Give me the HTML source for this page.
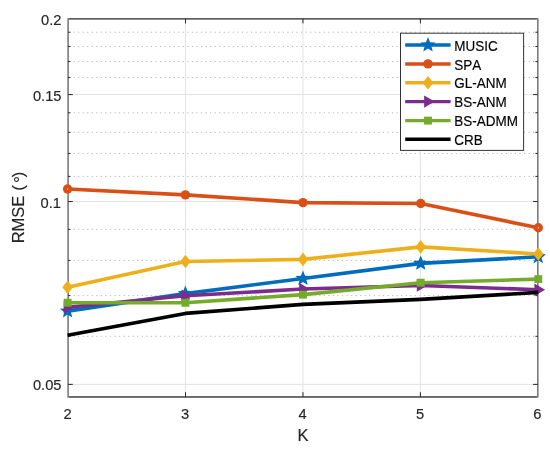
<!DOCTYPE html>
<html><head><meta charset="utf-8"><title>RMSE vs K</title>
<style>html,body{margin:0;padding:0;background:#fff;}body{width:550px;height:450px;overflow:hidden;}svg{display:block;}text{stroke:#262626;stroke-width:.16px;}text.lg{stroke:#000;}</style>
</head><body>
<svg width="550" height="450" viewBox="0 0 550 450" font-family="&quot;Liberation Sans&quot;, sans-serif" fill="#262626">
<rect width="550" height="450" fill="#fff"/>
<line x1="73.5" y1="32.23" x2="534.8" y2="32.23" stroke="#b8b8b8" stroke-width="1" stroke-dasharray="1.2 3.35"/>
<line x1="73.5" y1="46.49" x2="534.8" y2="46.49" stroke="#b8b8b8" stroke-width="1" stroke-dasharray="1.2 3.35"/>
<line x1="73.5" y1="61.57" x2="534.8" y2="61.57" stroke="#b8b8b8" stroke-width="1" stroke-dasharray="1.2 3.35"/>
<line x1="73.5" y1="77.56" x2="534.8" y2="77.56" stroke="#b8b8b8" stroke-width="1" stroke-dasharray="1.2 3.35"/>
<line x1="73.5" y1="112.79" x2="534.8" y2="112.79" stroke="#b8b8b8" stroke-width="1" stroke-dasharray="1.2 3.35"/>
<line x1="73.5" y1="132.34" x2="534.8" y2="132.34" stroke="#b8b8b8" stroke-width="1" stroke-dasharray="1.2 3.35"/>
<line x1="73.5" y1="153.45" x2="534.8" y2="153.45" stroke="#b8b8b8" stroke-width="1" stroke-dasharray="1.2 3.35"/>
<line x1="73.5" y1="176.40" x2="534.8" y2="176.40" stroke="#b8b8b8" stroke-width="1" stroke-dasharray="1.2 3.35"/>
<line x1="73.5" y1="229.34" x2="534.8" y2="229.34" stroke="#b8b8b8" stroke-width="1" stroke-dasharray="1.2 3.35"/>
<line x1="73.5" y1="260.41" x2="534.8" y2="260.41" stroke="#b8b8b8" stroke-width="1" stroke-dasharray="1.2 3.35"/>
<line x1="73.5" y1="295.63" x2="534.8" y2="295.63" stroke="#b8b8b8" stroke-width="1" stroke-dasharray="1.2 3.35"/>
<line x1="73.5" y1="336.30" x2="534.8" y2="336.30" stroke="#b8b8b8" stroke-width="1" stroke-dasharray="1.2 3.35"/>
<line x1="185.52499999999998" y1="18.7" x2="185.52499999999998" y2="396.9" stroke="#e2e2e2" stroke-width="1"/>
<line x1="302.94999999999993" y1="18.7" x2="302.94999999999993" y2="396.9" stroke="#e2e2e2" stroke-width="1"/>
<line x1="420.375" y1="18.7" x2="420.375" y2="396.9" stroke="#e2e2e2" stroke-width="1"/>
<line x1="68.1" y1="94.59" x2="537.8" y2="94.59" stroke="#e2e2e2" stroke-width="1"/>
<line x1="68.1" y1="201.55" x2="537.8" y2="201.55" stroke="#e2e2e2" stroke-width="1"/>
<line x1="68.1" y1="384.39" x2="537.8" y2="384.39" stroke="#e2e2e2" stroke-width="1"/>
<rect x="68.1" y="18.7" width="469.69999999999993" height="378.2" fill="none" stroke="#7c7c7c" stroke-width="1.6" stroke-linejoin="round"/>
<line x1="69.1" y1="18.7" x2="536.8" y2="18.7" stroke="#5e5e5e" stroke-width="1.5"/>
<line x1="69.1" y1="396.9" x2="536.8" y2="396.9" stroke="#666" stroke-width="1.5"/>
<line x1="185.52499999999998" y1="396.9" x2="185.52499999999998" y2="392.2" stroke="#262626" stroke-width="1"/>
<line x1="185.52499999999998" y1="18.7" x2="185.52499999999998" y2="23.4" stroke="#262626" stroke-width="1"/>
<line x1="302.94999999999993" y1="396.9" x2="302.94999999999993" y2="392.2" stroke="#262626" stroke-width="1"/>
<line x1="302.94999999999993" y1="18.7" x2="302.94999999999993" y2="23.4" stroke="#262626" stroke-width="1"/>
<line x1="420.375" y1="396.9" x2="420.375" y2="392.2" stroke="#262626" stroke-width="1"/>
<line x1="420.375" y1="18.7" x2="420.375" y2="23.4" stroke="#262626" stroke-width="1"/>
<line x1="68.1" y1="94.59" x2="72.8" y2="94.59" stroke="#262626" stroke-width="1"/>
<line x1="537.8" y1="94.59" x2="533.0999999999999" y2="94.59" stroke="#262626" stroke-width="1"/>
<line x1="68.1" y1="201.55" x2="72.8" y2="201.55" stroke="#262626" stroke-width="1"/>
<line x1="537.8" y1="201.55" x2="533.0999999999999" y2="201.55" stroke="#262626" stroke-width="1"/>
<line x1="68.1" y1="384.39" x2="72.8" y2="384.39" stroke="#262626" stroke-width="1"/>
<line x1="537.8" y1="384.39" x2="533.0999999999999" y2="384.39" stroke="#262626" stroke-width="1"/>
<line x1="68.1" y1="32.23" x2="70.5" y2="32.23" stroke="#262626" stroke-width="1"/>
<line x1="537.8" y1="32.23" x2="535.4" y2="32.23" stroke="#262626" stroke-width="1"/>
<line x1="68.1" y1="46.49" x2="70.5" y2="46.49" stroke="#262626" stroke-width="1"/>
<line x1="537.8" y1="46.49" x2="535.4" y2="46.49" stroke="#262626" stroke-width="1"/>
<line x1="68.1" y1="61.57" x2="70.5" y2="61.57" stroke="#262626" stroke-width="1"/>
<line x1="537.8" y1="61.57" x2="535.4" y2="61.57" stroke="#262626" stroke-width="1"/>
<line x1="68.1" y1="77.56" x2="70.5" y2="77.56" stroke="#262626" stroke-width="1"/>
<line x1="537.8" y1="77.56" x2="535.4" y2="77.56" stroke="#262626" stroke-width="1"/>
<line x1="68.1" y1="112.79" x2="70.5" y2="112.79" stroke="#262626" stroke-width="1"/>
<line x1="537.8" y1="112.79" x2="535.4" y2="112.79" stroke="#262626" stroke-width="1"/>
<line x1="68.1" y1="132.34" x2="70.5" y2="132.34" stroke="#262626" stroke-width="1"/>
<line x1="537.8" y1="132.34" x2="535.4" y2="132.34" stroke="#262626" stroke-width="1"/>
<line x1="68.1" y1="153.45" x2="70.5" y2="153.45" stroke="#262626" stroke-width="1"/>
<line x1="537.8" y1="153.45" x2="535.4" y2="153.45" stroke="#262626" stroke-width="1"/>
<line x1="68.1" y1="176.40" x2="70.5" y2="176.40" stroke="#262626" stroke-width="1"/>
<line x1="537.8" y1="176.40" x2="535.4" y2="176.40" stroke="#262626" stroke-width="1"/>
<line x1="68.1" y1="229.34" x2="70.5" y2="229.34" stroke="#262626" stroke-width="1"/>
<line x1="537.8" y1="229.34" x2="535.4" y2="229.34" stroke="#262626" stroke-width="1"/>
<line x1="68.1" y1="260.41" x2="70.5" y2="260.41" stroke="#262626" stroke-width="1"/>
<line x1="537.8" y1="260.41" x2="535.4" y2="260.41" stroke="#262626" stroke-width="1"/>
<line x1="68.1" y1="295.63" x2="70.5" y2="295.63" stroke="#262626" stroke-width="1"/>
<line x1="537.8" y1="295.63" x2="535.4" y2="295.63" stroke="#262626" stroke-width="1"/>
<line x1="68.1" y1="336.30" x2="70.5" y2="336.30" stroke="#262626" stroke-width="1"/>
<line x1="537.8" y1="336.30" x2="535.4" y2="336.30" stroke="#262626" stroke-width="1"/>
<polyline points="67.6,311.1 185.4,293.6 303.0,278.5 420.7,263.4 538.3,256.8" fill="none" stroke="#006CBC" stroke-width="3.6" stroke-linejoin="round"/>
<polygon points="67.60,303.10 69.66,308.27 75.21,308.63 70.93,312.18 72.30,317.57 67.60,314.60 62.90,317.57 64.27,312.18 59.99,308.63 65.54,308.27" fill="#006CBC"/>
<polygon points="185.40,285.60 187.46,290.77 193.01,291.13 188.73,294.68 190.10,300.07 185.40,297.10 180.70,300.07 182.07,294.68 177.79,291.13 183.34,290.77" fill="#006CBC"/>
<polygon points="303.00,270.50 305.06,275.67 310.61,276.03 306.33,279.58 307.70,284.97 303.00,282.00 298.30,284.97 299.67,279.58 295.39,276.03 300.94,275.67" fill="#006CBC"/>
<polygon points="420.70,255.40 422.76,260.57 428.31,260.93 424.03,264.48 425.40,269.87 420.70,266.90 416.00,269.87 417.37,264.48 413.09,260.93 418.64,260.57" fill="#006CBC"/>
<polygon points="538.30,248.80 540.36,253.97 545.91,254.33 541.63,257.88 543.00,263.27 538.30,260.30 533.60,263.27 534.97,257.88 530.69,254.33 536.24,253.97" fill="#006CBC"/>
<polyline points="67.6,189.0 185.4,194.9 303.0,202.6 420.7,203.5 538.3,227.8" fill="none" stroke="#D94F15" stroke-width="3.6" stroke-linejoin="round"/>
<circle cx="67.6" cy="189.0" r="4.7" fill="#D94F15"/>
<circle cx="185.4" cy="194.9" r="4.7" fill="#D94F15"/>
<circle cx="303.0" cy="202.6" r="4.7" fill="#D94F15"/>
<circle cx="420.7" cy="203.5" r="4.7" fill="#D94F15"/>
<circle cx="538.3" cy="227.8" r="4.7" fill="#D94F15"/>
<polyline points="67.6,287.25 185.4,261.45 303.0,259.4 420.7,246.85 538.3,254.0" fill="none" stroke="#EDB01C" stroke-width="3.6" stroke-linejoin="round"/>
<polygon points="67.6,280.45 72.89999999999999,287.25 67.6,294.05 62.3,287.25" fill="#EDB01C"/>
<polygon points="185.4,254.64999999999998 190.70000000000002,261.45 185.4,268.25 180.1,261.45" fill="#EDB01C"/>
<polygon points="303.0,252.59999999999997 308.3,259.4 303.0,266.2 297.7,259.4" fill="#EDB01C"/>
<polygon points="420.7,240.04999999999998 426.0,246.85 420.7,253.65 415.4,246.85" fill="#EDB01C"/>
<polygon points="538.3,247.2 543.5999999999999,254.0 538.3,260.8 533.0,254.0" fill="#EDB01C"/>
<polyline points="67.6,307.2 185.4,295.8 303.0,289.0 420.7,285.5 538.3,289.7" fill="none" stroke="#7C2C8D" stroke-width="3.6" stroke-linejoin="round"/>
<polygon points="63.699999999999996,301.0 74.39999999999999,307.2 63.699999999999996,313.4" fill="#7C2C8D"/>
<polygon points="181.5,289.6 192.20000000000002,295.8 181.5,302.0" fill="#7C2C8D"/>
<polygon points="299.1,282.8 309.8,289.0 299.1,295.2" fill="#7C2C8D"/>
<polygon points="416.8,279.3 427.5,285.5 416.8,291.7" fill="#7C2C8D"/>
<polygon points="534.4,283.5 545.0999999999999,289.7 534.4,295.9" fill="#7C2C8D"/>
<polyline points="67.6,302.7 185.4,302.8 303.0,294.65 420.7,282.7 538.3,279.1" fill="none" stroke="#74AB2B" stroke-width="3.6" stroke-linejoin="round"/>
<rect x="63.64999999999999" y="298.75" width="7.9" height="7.9" fill="#74AB2B"/>
<rect x="181.45000000000002" y="298.85" width="7.9" height="7.9" fill="#74AB2B"/>
<rect x="299.05" y="290.7" width="7.9" height="7.9" fill="#74AB2B"/>
<rect x="416.75" y="278.75" width="7.9" height="7.9" fill="#74AB2B"/>
<rect x="534.3499999999999" y="275.15000000000003" width="7.9" height="7.9" fill="#74AB2B"/>
<polyline points="67.6,335.2 185.4,313.4 303.0,304.4 420.7,299.35 538.3,292.4" fill="none" stroke="#000000" stroke-width="3.6" stroke-linejoin="round"/>





<rect x="67.1" y="188.5" width="1" height="1.2" fill="#f3c3ab"/>
<rect x="537.9" y="227.20000000000002" width="1" height="1.3" fill="#f6d3c0"/>
<rect x="67.5" y="287.35" width="0.9" height="0.9" fill="#b59a6a"/>
<rect x="537.8" y="253.5" width="0.9" height="0.9" fill="#8f8466"/>
<text x="67.70" y="418.5" font-size="14.7" text-anchor="middle">2</text>
<text x="185.12" y="418.5" font-size="14.7" text-anchor="middle">3</text>
<text x="302.55" y="418.5" font-size="14.7" text-anchor="middle">4</text>
<text x="419.98" y="418.5" font-size="14.7" text-anchor="middle">5</text>
<text x="537.40" y="418.5" font-size="14.7" text-anchor="middle">6</text>
<text x="61.5" y="25.10" font-size="14.7" text-anchor="end">0.2</text>
<text x="61.5" y="100.69" font-size="14.7" text-anchor="end">0.15</text>
<text x="60.9" y="207.65" font-size="14.7" text-anchor="end">0.1</text>
<text x="61.5" y="390.49" font-size="14.7" text-anchor="end">0.05</text>
<text x="303.1" y="440.6" font-size="16.5" text-anchor="middle">K</text>
<text transform="translate(23.7,243.35) rotate(-90)" font-size="16.5" style="font-kerning:none">RMSE <tspan dx="0.4">(</tspan><tspan dx="2.2" dy="2.6" font-size="17.3">°</tspan><tspan dx="-1.2" dy="-2.6">)</tspan></text>
<rect x="400.5" y="33.2" width="123.1" height="117.2" fill="#fff" stroke="#333" stroke-width="1"/>
<line x1="405.2" y1="45.0" x2="450.6" y2="45.0" stroke="#006CBC" stroke-width="3.45"/>
<polygon points="428.00,37.00 430.06,42.17 435.61,42.53 431.33,46.08 432.70,51.47 428.00,48.50 423.30,51.47 424.67,46.08 420.39,42.53 425.94,42.17" fill="#006CBC"/>
<text transform="translate(454.3,50.65) scale(0.917,1)" class="lg" font-size="14.7" fill="#000" style="font-kerning:none">MUSIC</text>
<line x1="405.2" y1="63.9" x2="450.6" y2="63.9" stroke="#D94F15" stroke-width="3.45"/>
<circle cx="428" cy="63.9" r="4.7" fill="#D94F15"/>
<text transform="translate(454.3,69.55) scale(0.917,1)" class="lg" font-size="14.7" fill="#000" style="font-kerning:none">SPA</text>
<line x1="405.2" y1="82.8" x2="450.6" y2="82.8" stroke="#EDB01C" stroke-width="3.45"/>
<polygon points="428,76.0 433.3,82.8 428,89.6 422.7,82.8" fill="#EDB01C"/>
<text transform="translate(454.3,88.45) scale(0.917,1)" class="lg" font-size="14.7" fill="#000" style="font-kerning:none">GL-ANM</text>
<line x1="405.2" y1="101.6" x2="450.6" y2="101.6" stroke="#7C2C8D" stroke-width="3.45"/>
<polygon points="424.1,95.39999999999999 434.8,101.6 424.1,107.8" fill="#7C2C8D"/>
<text transform="translate(454.3,107.25) scale(0.917,1)" class="lg" font-size="14.7" fill="#000" style="font-kerning:none">BS-ANM</text>
<line x1="405.2" y1="120.6" x2="450.6" y2="120.6" stroke="#74AB2B" stroke-width="3.45"/>
<rect x="424.05" y="116.64999999999999" width="7.9" height="7.9" fill="#74AB2B"/>
<text transform="translate(454.3,126.25) scale(0.917,1)" class="lg" font-size="14.7" fill="#000" style="font-kerning:none">BS-ADMM</text>
<line x1="405.2" y1="139.3" x2="450.6" y2="139.3" stroke="#000000" stroke-width="3.45"/>

<text transform="translate(454.3,144.95) scale(0.917,1)" class="lg" font-size="14.7" fill="#000" style="font-kerning:none">CRB</text>
</svg>
</body></html>
